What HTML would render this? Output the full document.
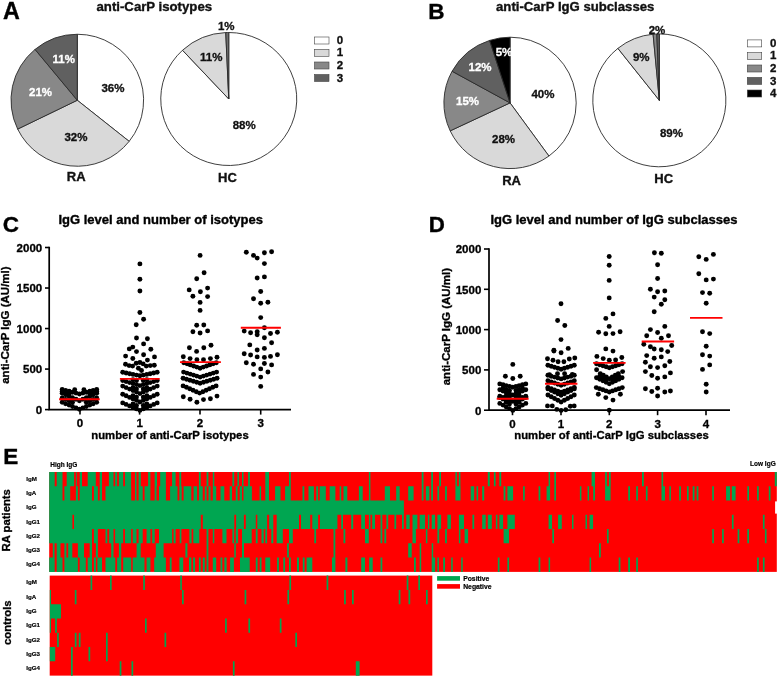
<!DOCTYPE html>
<html><head><meta charset="utf-8"><title>anti-CarP figure</title>
<style>
html,body{margin:0;padding:0;background:#fff;}
svg{display:block;font-family:"Liberation Sans", Arial, sans-serif;}
</style></head><body>
<svg width="778" height="677" viewBox="0 0 778 677">
<rect width="778" height="677" fill="#fff"/>
<path d="M77.30,100.25 L77.30,34.25 A66.3,66.0 0 0 1 129.17,141.35 Z" fill="#ffffff" stroke="#2a2a2a" stroke-width="0.9" stroke-linejoin="round"/>
<path d="M77.30,100.25 L129.17,141.35 A66.3,66.0 0 0 1 17.67,129.10 Z" fill="#d9d9d9" stroke="#2a2a2a" stroke-width="0.9" stroke-linejoin="round"/>
<path d="M77.30,100.25 L17.67,129.10 A66.3,66.0 0 0 1 35.04,49.40 Z" fill="#888888" stroke="#2a2a2a" stroke-width="0.9" stroke-linejoin="round"/>
<path d="M77.30,100.25 L35.04,49.40 A66.3,66.0 0 0 1 77.30,34.25 Z" fill="#606060" stroke="#2a2a2a" stroke-width="0.9" stroke-linejoin="round"/>
<path d="M228.75,99.00 L228.75,32.50 A68.0,66.5 0 1 1 182.51,50.24 Z" fill="#ffffff" stroke="#2a2a2a" stroke-width="0.9" stroke-linejoin="round"/>
<path d="M228.75,99.00 L182.51,50.24 A68.0,66.5 0 0 1 225.76,32.56 Z" fill="#d9d9d9" stroke="#2a2a2a" stroke-width="0.9" stroke-linejoin="round"/>
<path d="M228.75,99.00 L225.76,32.56 A68.0,66.5 0 0 1 228.75,32.50 Z" fill="#707070" stroke="#2a2a2a" stroke-width="0.9" stroke-linejoin="round"/>
<path d="M510.05,102.90 L510.05,37.20 A66.15,65.7 0 0 1 548.93,156.05 Z" fill="#ffffff" stroke="#2a2a2a" stroke-width="0.9" stroke-linejoin="round"/>
<path d="M510.05,102.90 L548.93,156.05 A66.15,65.7 0 0 1 450.20,130.87 Z" fill="#d9d9d9" stroke="#2a2a2a" stroke-width="0.9" stroke-linejoin="round"/>
<path d="M510.05,102.90 L450.20,130.87 A66.15,65.7 0 0 1 452.08,71.25 Z" fill="#888888" stroke="#2a2a2a" stroke-width="0.9" stroke-linejoin="round"/>
<path d="M510.05,102.90 L452.08,71.25 A66.15,65.7 0 0 1 489.61,40.42 Z" fill="#606060" stroke="#2a2a2a" stroke-width="0.9" stroke-linejoin="round"/>
<path d="M510.05,102.90 L489.61,40.42 A66.15,65.7 0 0 1 510.05,37.20 Z" fill="#000000" stroke="#2a2a2a" stroke-width="0.9" stroke-linejoin="round"/>
<path d="M659.35,100.35 L659.35,33.90 A66.55,66.45 0 1 1 617.90,48.36 Z" fill="#ffffff" stroke="#2a2a2a" stroke-width="0.9" stroke-linejoin="round"/>
<path d="M659.35,100.35 L617.90,48.36 A66.55,66.45 0 0 1 653.09,34.19 Z" fill="#d9d9d9" stroke="#2a2a2a" stroke-width="0.9" stroke-linejoin="round"/>
<path d="M659.35,100.35 L653.09,34.19 A66.55,66.45 0 0 1 656.84,33.95 Z" fill="#888888" stroke="#2a2a2a" stroke-width="0.9" stroke-linejoin="round"/>
<path d="M659.35,100.35 L656.84,33.95 A66.55,66.45 0 0 1 659.35,33.90 Z" fill="#606060" stroke="#2a2a2a" stroke-width="0.9" stroke-linejoin="round"/>
<text x="2.9" y="19.3" font-size="23.3" text-anchor="start" fill="#000" stroke="#000" stroke-width="0.35" font-weight="bold" >A</text>
<text x="428.3" y="19.4" font-size="22.5" text-anchor="start" fill="#000" stroke="#000" stroke-width="0.35" font-weight="bold" >B</text>
<text x="154.3" y="11" font-size="13.2" text-anchor="middle" fill="#111" stroke="#111" stroke-width="0.37" font-weight="bold" >anti-CarP isotypes</text>
<text x="575.2" y="10.6" font-size="13.15" text-anchor="middle" fill="#111" stroke="#111" stroke-width="0.37" font-weight="bold" >anti-CarP IgG subclasses</text>
<text x="112.9" y="92.2" font-size="11.5" text-anchor="middle" fill="#111" stroke="#111" stroke-width="0.32" font-weight="bold" >36%</text>
<text x="75.9" y="140.9" font-size="11.5" text-anchor="middle" fill="#111" stroke="#111" stroke-width="0.32" font-weight="bold" >32%</text>
<text x="40.5" y="96.4" font-size="11.5" text-anchor="middle" fill="#fff" stroke="#fff" stroke-width="0.32" font-weight="bold" >21%</text>
<text x="63.8" y="62.7" font-size="11.5" text-anchor="middle" fill="#fff" stroke="#fff" stroke-width="0.32" font-weight="bold" >11%</text>
<text x="76.2" y="180.8" font-size="13" text-anchor="middle" fill="#111" stroke="#111" stroke-width="0.36" font-weight="bold" >RA</text>
<text x="226.2" y="30.1" font-size="11.5" text-anchor="middle" fill="#111" stroke="#111" stroke-width="0.32" font-weight="bold" >1%</text>
<text x="211.2" y="61.2" font-size="11.5" text-anchor="middle" fill="#111" stroke="#111" stroke-width="0.32" font-weight="bold" >11%</text>
<text x="244.2" y="129.1" font-size="11.5" text-anchor="middle" fill="#111" stroke="#111" stroke-width="0.32" font-weight="bold" >88%</text>
<text x="227.4" y="182.3" font-size="13" text-anchor="middle" fill="#111" stroke="#111" stroke-width="0.36" font-weight="bold" >HC</text>
<text x="336.7" y="44.3" font-size="11.5" text-anchor="start" fill="#111" stroke="#111" stroke-width="0.32" font-weight="bold" >0</text>
<text x="336.7" y="56.4" font-size="11.5" text-anchor="start" fill="#111" stroke="#111" stroke-width="0.32" font-weight="bold" >1</text>
<text x="336.7" y="68.8" font-size="11.5" text-anchor="start" fill="#111" stroke="#111" stroke-width="0.32" font-weight="bold" >2</text>
<text x="336.7" y="81.5" font-size="11.5" text-anchor="start" fill="#111" stroke="#111" stroke-width="0.32" font-weight="bold" >3</text>
<text x="542.9" y="97.8" font-size="11.5" text-anchor="middle" fill="#111" stroke="#111" stroke-width="0.32" font-weight="bold" >40%</text>
<text x="503.6" y="143" font-size="11.5" text-anchor="middle" fill="#111" stroke="#111" stroke-width="0.32" font-weight="bold" >28%</text>
<text x="467.6" y="105.4" font-size="11.5" text-anchor="middle" fill="#fff" stroke="#fff" stroke-width="0.32" font-weight="bold" >15%</text>
<text x="480" y="70.9" font-size="11.5" text-anchor="middle" fill="#fff" stroke="#fff" stroke-width="0.32" font-weight="bold" >12%</text>
<text x="504" y="56.0" font-size="11.5" text-anchor="middle" fill="#fff" stroke="#fff" stroke-width="0.32" font-weight="bold" >5%</text>
<text x="511.6" y="184.6" font-size="13" text-anchor="middle" fill="#111" stroke="#111" stroke-width="0.36" font-weight="bold" >RA</text>
<text x="657" y="33.9" font-size="11.5" text-anchor="middle" fill="#111" stroke="#111" stroke-width="0.32" font-weight="bold" >2%</text>
<text x="641.2" y="60.6" font-size="11.5" text-anchor="middle" fill="#111" stroke="#111" stroke-width="0.32" font-weight="bold" >9%</text>
<text x="671.4" y="136.9" font-size="11.5" text-anchor="middle" fill="#111" stroke="#111" stroke-width="0.32" font-weight="bold" >89%</text>
<text x="663.7" y="183.2" font-size="13" text-anchor="middle" fill="#111" stroke="#111" stroke-width="0.36" font-weight="bold" >HC</text>
<text x="770" y="47.3" font-size="11.5" text-anchor="start" fill="#111" stroke="#111" stroke-width="0.32" font-weight="bold" >0</text>
<text x="770" y="59.4" font-size="11.5" text-anchor="start" fill="#111" stroke="#111" stroke-width="0.32" font-weight="bold" >1</text>
<text x="770" y="72.1" font-size="11.5" text-anchor="start" fill="#111" stroke="#111" stroke-width="0.32" font-weight="bold" >2</text>
<text x="770" y="84.5" font-size="11.5" text-anchor="start" fill="#111" stroke="#111" stroke-width="0.32" font-weight="bold" >3</text>
<text x="770" y="97.2" font-size="11.5" text-anchor="start" fill="#111" stroke="#111" stroke-width="0.32" font-weight="bold" >4</text>
<rect x="314.5" y="37" width="14.5" height="7" fill="#fff" stroke="#444" stroke-width="0.6"/>
<rect x="314.5" y="49.3" width="14.5" height="7" fill="#d9d9d9" stroke="#444" stroke-width="0.6"/>
<rect x="314.5" y="62" width="14.5" height="7" fill="#888888" stroke="#444" stroke-width="0.6"/>
<rect x="314.5" y="74.5" width="14.5" height="7" fill="#606060" stroke="#444" stroke-width="0.6"/>
<rect x="747.3" y="39.9" width="14.4" height="7" fill="#fff" stroke="#444" stroke-width="0.6"/>
<rect x="747.3" y="52.6" width="14.4" height="7" fill="#d9d9d9" stroke="#444" stroke-width="0.6"/>
<rect x="747.3" y="65" width="14.4" height="7" fill="#888888" stroke="#444" stroke-width="0.6"/>
<rect x="747.3" y="77.4" width="14.4" height="7" fill="#606060" stroke="#444" stroke-width="0.6"/>
<rect x="747.3" y="90" width="14.4" height="7" fill="#000" stroke="#444" stroke-width="0.6"/>
<path d="M49.2,246.7 V409.6 H291" fill="none" stroke="#000" stroke-width="1.7"/>
<path d="M45.0,409.60 H49.2" stroke="#000" stroke-width="1.6"/>
<text x="42.2" y="414.0" font-size="11.5" text-anchor="end" fill="#000" stroke="#000" stroke-width="0.32" font-weight="bold" >0</text>
<path d="M45.0,369.08 H49.2" stroke="#000" stroke-width="1.6"/>
<text x="42.2" y="373.48" font-size="11.5" text-anchor="end" fill="#000" stroke="#000" stroke-width="0.32" font-weight="bold" >500</text>
<path d="M45.0,328.55 H49.2" stroke="#000" stroke-width="1.6"/>
<text x="42.2" y="332.95" font-size="11.5" text-anchor="end" fill="#000" stroke="#000" stroke-width="0.32" font-weight="bold" >1000</text>
<path d="M45.0,288.02 H49.2" stroke="#000" stroke-width="1.6"/>
<text x="42.2" y="292.42" font-size="11.5" text-anchor="end" fill="#000" stroke="#000" stroke-width="0.32" font-weight="bold" >1500</text>
<path d="M45.0,247.50 H49.2" stroke="#000" stroke-width="1.6"/>
<text x="42.2" y="251.9" font-size="11.5" text-anchor="end" fill="#000" stroke="#000" stroke-width="0.32" font-weight="bold" >2000</text>
<path d="M80,409.6 v5" stroke="#000" stroke-width="1.6"/>
<text x="80" y="427.1" font-size="11.5" text-anchor="middle" fill="#000" stroke="#000" stroke-width="0.32" font-weight="bold" >0</text>
<path d="M139.6,409.6 v5" stroke="#000" stroke-width="1.6"/>
<text x="139.6" y="427.1" font-size="11.5" text-anchor="middle" fill="#000" stroke="#000" stroke-width="0.32" font-weight="bold" >1</text>
<path d="M200,409.6 v5" stroke="#000" stroke-width="1.6"/>
<text x="200" y="427.1" font-size="11.5" text-anchor="middle" fill="#000" stroke="#000" stroke-width="0.32" font-weight="bold" >2</text>
<path d="M260.7,409.6 v5" stroke="#000" stroke-width="1.6"/>
<text x="260.7" y="427.1" font-size="11.5" text-anchor="middle" fill="#000" stroke="#000" stroke-width="0.32" font-weight="bold" >3</text>
<circle cx="62.2" cy="402.3" r="2.45"/>
<circle cx="65.6" cy="403.7" r="2.45"/>
<circle cx="69.1" cy="405.1" r="2.45"/>
<circle cx="72.5" cy="406.5" r="2.45"/>
<circle cx="76.0" cy="407.9" r="2.45"/>
<circle cx="79.4" cy="409.3" r="2.45"/>
<circle cx="82.9" cy="407.9" r="2.45"/>
<circle cx="86.3" cy="406.5" r="2.45"/>
<circle cx="89.8" cy="405.1" r="2.45"/>
<circle cx="93.2" cy="403.7" r="2.45"/>
<circle cx="96.7" cy="402.3" r="2.45"/>
<circle cx="62.2" cy="397.9" r="2.45"/>
<circle cx="65.6" cy="399.4" r="2.45"/>
<circle cx="69.1" cy="400.8" r="2.45"/>
<circle cx="72.5" cy="402.3" r="2.45"/>
<circle cx="86.3" cy="402.3" r="2.45"/>
<circle cx="89.8" cy="400.8" r="2.45"/>
<circle cx="93.2" cy="399.4" r="2.45"/>
<circle cx="96.7" cy="397.9" r="2.45"/>
<circle cx="62.2" cy="393.3" r="2.45"/>
<circle cx="65.6" cy="394.8" r="2.45"/>
<circle cx="69.1" cy="396.3" r="2.45"/>
<circle cx="72.5" cy="397.8" r="2.45"/>
<circle cx="76.0" cy="399.3" r="2.45"/>
<circle cx="79.4" cy="400.8" r="2.45"/>
<circle cx="82.9" cy="399.3" r="2.45"/>
<circle cx="86.3" cy="397.8" r="2.45"/>
<circle cx="89.8" cy="396.3" r="2.45"/>
<circle cx="93.2" cy="394.8" r="2.45"/>
<circle cx="96.7" cy="393.3" r="2.45"/>
<circle cx="62.2" cy="391.4" r="2.45"/>
<circle cx="65.6" cy="392.6" r="2.45"/>
<circle cx="69.1" cy="393.8" r="2.45"/>
<circle cx="89.8" cy="393.8" r="2.45"/>
<circle cx="93.2" cy="392.6" r="2.45"/>
<circle cx="96.7" cy="391.4" r="2.45"/>
<circle cx="62.2" cy="389.5" r="2.45"/>
<circle cx="65.6" cy="390.4" r="2.45"/>
<circle cx="69.1" cy="391.3" r="2.45"/>
<circle cx="72.5" cy="392.2" r="2.45"/>
<circle cx="76.0" cy="393.1" r="2.45"/>
<circle cx="79.4" cy="394.0" r="2.45"/>
<circle cx="82.9" cy="393.1" r="2.45"/>
<circle cx="86.3" cy="392.2" r="2.45"/>
<circle cx="89.8" cy="391.3" r="2.45"/>
<circle cx="93.2" cy="390.4" r="2.45"/>
<circle cx="96.7" cy="389.5" r="2.45"/>
<circle cx="74.7" cy="389.8" r="2.45"/>
<circle cx="83.9" cy="389.8" r="2.45"/>
<circle cx="139.9" cy="263.9" r="2.45"/>
<circle cx="139.9" cy="279.3" r="2.45"/>
<circle cx="139.9" cy="291.0" r="2.45"/>
<circle cx="139.9" cy="312.5" r="2.45"/>
<circle cx="143.6" cy="319.2" r="2.45"/>
<circle cx="136.2" cy="324.8" r="2.45"/>
<circle cx="136.5" cy="338.0" r="2.45"/>
<circle cx="147.4" cy="338.8" r="2.45"/>
<circle cx="143.6" cy="343.9" r="2.45"/>
<circle cx="132.8" cy="347.1" r="2.45"/>
<circle cx="129.3" cy="348.9" r="2.45"/>
<circle cx="150.8" cy="349.2" r="2.45"/>
<circle cx="136.5" cy="351.6" r="2.45"/>
<circle cx="143.6" cy="354.8" r="2.45"/>
<circle cx="125.6" cy="356.1" r="2.45"/>
<circle cx="154.5" cy="356.9" r="2.45"/>
<circle cx="132.8" cy="358.5" r="2.45"/>
<circle cx="147.4" cy="360.1" r="2.45"/>
<circle cx="125.5" cy="364.3" r="2.45"/>
<circle cx="129.1" cy="365.6" r="2.45"/>
<circle cx="132.6" cy="366.1" r="2.45"/>
<circle cx="136.2" cy="363.2" r="2.45"/>
<circle cx="138.4" cy="368.3" r="2.45"/>
<circle cx="141.5" cy="370.5" r="2.45"/>
<circle cx="143.2" cy="363.9" r="2.45"/>
<circle cx="146.3" cy="366.1" r="2.45"/>
<circle cx="150.3" cy="365.6" r="2.45"/>
<circle cx="154.3" cy="365.2" r="2.45"/>
<circle cx="139.9" cy="362.5" r="2.45"/>
<circle cx="122.7" cy="372.3" r="2.45"/>
<circle cx="126.1" cy="373.0" r="2.45"/>
<circle cx="129.6" cy="373.7" r="2.45"/>
<circle cx="133.0" cy="374.4" r="2.45"/>
<circle cx="136.5" cy="375.1" r="2.45"/>
<circle cx="139.9" cy="375.8" r="2.45"/>
<circle cx="143.3" cy="375.1" r="2.45"/>
<circle cx="146.8" cy="374.4" r="2.45"/>
<circle cx="150.2" cy="373.7" r="2.45"/>
<circle cx="153.7" cy="373.0" r="2.45"/>
<circle cx="157.2" cy="372.3" r="2.45"/>
<circle cx="122.7" cy="380.6" r="2.45"/>
<circle cx="126.1" cy="381.6" r="2.45"/>
<circle cx="129.6" cy="382.6" r="2.45"/>
<circle cx="133.0" cy="383.6" r="2.45"/>
<circle cx="136.5" cy="384.6" r="2.45"/>
<circle cx="139.9" cy="385.6" r="2.45"/>
<circle cx="143.3" cy="384.6" r="2.45"/>
<circle cx="146.8" cy="383.6" r="2.45"/>
<circle cx="150.2" cy="382.6" r="2.45"/>
<circle cx="153.7" cy="381.6" r="2.45"/>
<circle cx="157.2" cy="380.6" r="2.45"/>
<circle cx="133.0" cy="379.7" r="2.45"/>
<circle cx="136.5" cy="380.6" r="2.45"/>
<circle cx="143.3" cy="380.6" r="2.45"/>
<circle cx="146.8" cy="379.7" r="2.45"/>
<circle cx="122.7" cy="386.1" r="2.45"/>
<circle cx="126.1" cy="387.6" r="2.45"/>
<circle cx="129.6" cy="389.1" r="2.45"/>
<circle cx="133.0" cy="390.6" r="2.45"/>
<circle cx="136.5" cy="392.1" r="2.45"/>
<circle cx="139.9" cy="393.6" r="2.45"/>
<circle cx="143.3" cy="392.1" r="2.45"/>
<circle cx="146.8" cy="390.6" r="2.45"/>
<circle cx="150.2" cy="389.1" r="2.45"/>
<circle cx="153.7" cy="387.6" r="2.45"/>
<circle cx="157.2" cy="386.1" r="2.45"/>
<circle cx="133.0" cy="387.6" r="2.45"/>
<circle cx="136.5" cy="388.9" r="2.45"/>
<circle cx="143.3" cy="388.9" r="2.45"/>
<circle cx="146.8" cy="387.6" r="2.45"/>
<circle cx="122.7" cy="394.2" r="2.45"/>
<circle cx="126.1" cy="395.8" r="2.45"/>
<circle cx="129.6" cy="397.4" r="2.45"/>
<circle cx="133.0" cy="398.9" r="2.45"/>
<circle cx="136.5" cy="400.4" r="2.45"/>
<circle cx="139.9" cy="402.0" r="2.45"/>
<circle cx="143.3" cy="400.4" r="2.45"/>
<circle cx="146.8" cy="398.9" r="2.45"/>
<circle cx="150.2" cy="397.4" r="2.45"/>
<circle cx="153.7" cy="395.8" r="2.45"/>
<circle cx="157.2" cy="394.2" r="2.45"/>
<circle cx="133.0" cy="395.6" r="2.45"/>
<circle cx="136.5" cy="397.1" r="2.45"/>
<circle cx="143.3" cy="397.1" r="2.45"/>
<circle cx="146.8" cy="395.6" r="2.45"/>
<circle cx="122.7" cy="402.9" r="2.45"/>
<circle cx="126.1" cy="404.4" r="2.45"/>
<circle cx="129.6" cy="405.9" r="2.45"/>
<circle cx="133.0" cy="407.4" r="2.45"/>
<circle cx="136.5" cy="408.9" r="2.45"/>
<circle cx="139.9" cy="410.4" r="2.45"/>
<circle cx="143.3" cy="408.9" r="2.45"/>
<circle cx="146.8" cy="407.4" r="2.45"/>
<circle cx="150.2" cy="405.9" r="2.45"/>
<circle cx="153.7" cy="404.4" r="2.45"/>
<circle cx="157.2" cy="402.9" r="2.45"/>
<circle cx="133.0" cy="404.0" r="2.45"/>
<circle cx="136.5" cy="405.5" r="2.45"/>
<circle cx="143.3" cy="405.5" r="2.45"/>
<circle cx="146.8" cy="404.0" r="2.45"/>
<circle cx="200.1" cy="255.4" r="2.45"/>
<circle cx="204.1" cy="272.7" r="2.45"/>
<circle cx="196.7" cy="278.8" r="2.45"/>
<circle cx="207.6" cy="288.1" r="2.45"/>
<circle cx="189.2" cy="289.9" r="2.45"/>
<circle cx="200.4" cy="291.8" r="2.45"/>
<circle cx="192.9" cy="296.3" r="2.45"/>
<circle cx="207.6" cy="296.6" r="2.45"/>
<circle cx="200.1" cy="302.4" r="2.45"/>
<circle cx="200.1" cy="310.4" r="2.45"/>
<circle cx="196.7" cy="325.3" r="2.45"/>
<circle cx="203.8" cy="325.0" r="2.45"/>
<circle cx="192.9" cy="331.7" r="2.45"/>
<circle cx="200.1" cy="333.0" r="2.45"/>
<circle cx="207.6" cy="330.9" r="2.45"/>
<circle cx="189.4" cy="347.7" r="2.45"/>
<circle cx="196.6" cy="351.4" r="2.45"/>
<circle cx="203.8" cy="347.7" r="2.45"/>
<circle cx="211.0" cy="345.3" r="2.45"/>
<circle cx="183.3" cy="356.8" r="2.45"/>
<circle cx="190.1" cy="358.6" r="2.45"/>
<circle cx="196.9" cy="359.7" r="2.45"/>
<circle cx="203.5" cy="359.7" r="2.45"/>
<circle cx="210.4" cy="358.6" r="2.45"/>
<circle cx="217.0" cy="357.2" r="2.45"/>
<circle cx="183.3" cy="396.8" r="2.45"/>
<circle cx="190.1" cy="399.2" r="2.45"/>
<circle cx="196.9" cy="402.2" r="2.45"/>
<circle cx="203.5" cy="399.6" r="2.45"/>
<circle cx="210.4" cy="398.7" r="2.45"/>
<circle cx="217.0" cy="396.1" r="2.45"/>
<circle cx="183.8" cy="362.7" r="2.45"/>
<circle cx="187.1" cy="363.8" r="2.45"/>
<circle cx="190.3" cy="364.9" r="2.45"/>
<circle cx="193.6" cy="366.0" r="2.45"/>
<circle cx="196.8" cy="367.1" r="2.45"/>
<circle cx="200.1" cy="368.2" r="2.45"/>
<circle cx="203.3" cy="367.1" r="2.45"/>
<circle cx="206.6" cy="366.0" r="2.45"/>
<circle cx="209.8" cy="364.9" r="2.45"/>
<circle cx="213.1" cy="363.8" r="2.45"/>
<circle cx="216.3" cy="362.7" r="2.45"/>
<circle cx="183.6" cy="372.1" r="2.45"/>
<circle cx="186.9" cy="373.1" r="2.45"/>
<circle cx="190.2" cy="374.1" r="2.45"/>
<circle cx="193.5" cy="375.1" r="2.45"/>
<circle cx="196.8" cy="376.1" r="2.45"/>
<circle cx="200.1" cy="377.1" r="2.45"/>
<circle cx="203.4" cy="376.1" r="2.45"/>
<circle cx="206.7" cy="375.1" r="2.45"/>
<circle cx="210.0" cy="374.1" r="2.45"/>
<circle cx="213.3" cy="373.1" r="2.45"/>
<circle cx="216.6" cy="372.1" r="2.45"/>
<circle cx="183.1" cy="378.2" r="2.45"/>
<circle cx="186.5" cy="379.2" r="2.45"/>
<circle cx="189.9" cy="380.2" r="2.45"/>
<circle cx="193.3" cy="381.2" r="2.45"/>
<circle cx="196.7" cy="382.2" r="2.45"/>
<circle cx="200.1" cy="383.2" r="2.45"/>
<circle cx="203.5" cy="382.2" r="2.45"/>
<circle cx="206.9" cy="381.2" r="2.45"/>
<circle cx="210.3" cy="380.2" r="2.45"/>
<circle cx="213.7" cy="379.2" r="2.45"/>
<circle cx="217.1" cy="378.2" r="2.45"/>
<circle cx="183.1" cy="385.9" r="2.45"/>
<circle cx="186.4" cy="387.3" r="2.45"/>
<circle cx="189.7" cy="388.8" r="2.45"/>
<circle cx="193.0" cy="390.2" r="2.45"/>
<circle cx="196.3" cy="391.7" r="2.45"/>
<circle cx="199.6" cy="393.1" r="2.45"/>
<circle cx="202.9" cy="391.7" r="2.45"/>
<circle cx="206.2" cy="390.2" r="2.45"/>
<circle cx="209.5" cy="388.8" r="2.45"/>
<circle cx="212.8" cy="387.3" r="2.45"/>
<circle cx="216.1" cy="385.9" r="2.45"/>
<circle cx="246.3" cy="252.2" r="2.45"/>
<circle cx="253.5" cy="255.4" r="2.45"/>
<circle cx="257.2" cy="258.1" r="2.45"/>
<circle cx="264.4" cy="252.8" r="2.45"/>
<circle cx="271.6" cy="251.7" r="2.45"/>
<circle cx="264.4" cy="263.6" r="2.45"/>
<circle cx="257.2" cy="278.0" r="2.45"/>
<circle cx="264.4" cy="276.9" r="2.45"/>
<circle cx="260.7" cy="291.5" r="2.45"/>
<circle cx="253.5" cy="298.7" r="2.45"/>
<circle cx="260.7" cy="303.2" r="2.45"/>
<circle cx="267.9" cy="302.2" r="2.45"/>
<circle cx="260.7" cy="317.6" r="2.45"/>
<circle cx="264.4" cy="327.7" r="2.45"/>
<circle cx="244.2" cy="331.1" r="2.45"/>
<circle cx="250.6" cy="332.7" r="2.45"/>
<circle cx="257.2" cy="331.7" r="2.45"/>
<circle cx="257.2" cy="334.8" r="2.45"/>
<circle cx="264.4" cy="337.8" r="2.45"/>
<circle cx="270.5" cy="333.5" r="2.45"/>
<circle cx="277.4" cy="332.2" r="2.45"/>
<circle cx="271.6" cy="342.8" r="2.45"/>
<circle cx="249.8" cy="344.9" r="2.45"/>
<circle cx="264.4" cy="348.4" r="2.45"/>
<circle cx="257.2" cy="350.0" r="2.45"/>
<circle cx="244.2" cy="353.7" r="2.45"/>
<circle cx="250.6" cy="355.0" r="2.45"/>
<circle cx="257.2" cy="356.9" r="2.45"/>
<circle cx="264.4" cy="357.4" r="2.45"/>
<circle cx="270.5" cy="356.4" r="2.45"/>
<circle cx="277.4" cy="354.8" r="2.45"/>
<circle cx="246.3" cy="362.7" r="2.45"/>
<circle cx="253.5" cy="364.3" r="2.45"/>
<circle cx="264.4" cy="363.5" r="2.45"/>
<circle cx="271.6" cy="364.9" r="2.45"/>
<circle cx="260.7" cy="368.9" r="2.45"/>
<circle cx="267.9" cy="372.0" r="2.45"/>
<circle cx="253.5" cy="374.4" r="2.45"/>
<circle cx="260.7" cy="377.1" r="2.45"/>
<circle cx="260.7" cy="386.4" r="2.45"/>
<path d="M59.1,399.2 H99.7" stroke="#ff0000" stroke-width="1.9"/>
<path d="M119.9,378.9 H159.7" stroke="#ff0000" stroke-width="1.9"/>
<path d="M180,362.1 H220.9" stroke="#ff0000" stroke-width="1.9"/>
<path d="M240.8,327.7 H280.9" stroke="#ff0000" stroke-width="1.9"/>
<path d="M489.0,248.2 V410.2 H730" fill="none" stroke="#000" stroke-width="1.7"/>
<path d="M484.0,410.20 H489.0" stroke="#000" stroke-width="1.6"/>
<text x="481.3" y="414.6" font-size="11.5" text-anchor="end" fill="#000" stroke="#000" stroke-width="0.32" font-weight="bold" >0</text>
<path d="M484.0,369.90 H489.0" stroke="#000" stroke-width="1.6"/>
<text x="481.3" y="374.3" font-size="11.5" text-anchor="end" fill="#000" stroke="#000" stroke-width="0.32" font-weight="bold" >500</text>
<path d="M484.0,329.60 H489.0" stroke="#000" stroke-width="1.6"/>
<text x="481.3" y="334.0" font-size="11.5" text-anchor="end" fill="#000" stroke="#000" stroke-width="0.32" font-weight="bold" >1000</text>
<path d="M484.0,289.30 H489.0" stroke="#000" stroke-width="1.6"/>
<text x="481.3" y="293.7" font-size="11.5" text-anchor="end" fill="#000" stroke="#000" stroke-width="0.32" font-weight="bold" >1500</text>
<path d="M484.0,249.00 H489.0" stroke="#000" stroke-width="1.6"/>
<text x="481.3" y="253.4" font-size="11.5" text-anchor="end" fill="#000" stroke="#000" stroke-width="0.32" font-weight="bold" >2000</text>
<path d="M512.5,410.2 v5" stroke="#000" stroke-width="1.6"/>
<text x="512.5" y="427.7" font-size="11.5" text-anchor="middle" fill="#000" stroke="#000" stroke-width="0.32" font-weight="bold" >0</text>
<path d="M561,410.2 v5" stroke="#000" stroke-width="1.6"/>
<text x="561" y="427.7" font-size="11.5" text-anchor="middle" fill="#000" stroke="#000" stroke-width="0.32" font-weight="bold" >1</text>
<path d="M609.3,410.2 v5" stroke="#000" stroke-width="1.6"/>
<text x="609.3" y="427.7" font-size="11.5" text-anchor="middle" fill="#000" stroke="#000" stroke-width="0.32" font-weight="bold" >2</text>
<path d="M657.6,410.2 v5" stroke="#000" stroke-width="1.6"/>
<text x="657.6" y="427.7" font-size="11.5" text-anchor="middle" fill="#000" stroke="#000" stroke-width="0.32" font-weight="bold" >3</text>
<path d="M706,410.2 v5" stroke="#000" stroke-width="1.6"/>
<text x="706" y="427.7" font-size="11.5" text-anchor="middle" fill="#000" stroke="#000" stroke-width="0.32" font-weight="bold" >4</text>
<circle cx="512.8" cy="364.4" r="2.45"/>
<circle cx="505.4" cy="376.3" r="2.45"/>
<circle cx="512.8" cy="378.5" r="2.45"/>
<circle cx="520.2" cy="376.3" r="2.45"/>
<circle cx="499.8" cy="383.9" r="2.45"/>
<circle cx="503.0" cy="384.8" r="2.45"/>
<circle cx="506.2" cy="385.6" r="2.45"/>
<circle cx="509.5" cy="386.4" r="2.45"/>
<circle cx="512.8" cy="387.3" r="2.45"/>
<circle cx="516.0" cy="386.4" r="2.45"/>
<circle cx="519.2" cy="385.6" r="2.45"/>
<circle cx="522.5" cy="384.8" r="2.45"/>
<circle cx="525.8" cy="383.9" r="2.45"/>
<circle cx="499.8" cy="389.8" r="2.45"/>
<circle cx="503.0" cy="391.1" r="2.45"/>
<circle cx="506.2" cy="392.4" r="2.45"/>
<circle cx="509.5" cy="393.7" r="2.45"/>
<circle cx="512.8" cy="395.0" r="2.45"/>
<circle cx="516.0" cy="393.7" r="2.45"/>
<circle cx="519.2" cy="392.4" r="2.45"/>
<circle cx="522.5" cy="391.1" r="2.45"/>
<circle cx="525.8" cy="389.8" r="2.45"/>
<circle cx="499.8" cy="396.2" r="2.45"/>
<circle cx="503.0" cy="397.5" r="2.45"/>
<circle cx="506.2" cy="398.8" r="2.45"/>
<circle cx="509.5" cy="400.1" r="2.45"/>
<circle cx="512.8" cy="401.4" r="2.45"/>
<circle cx="516.0" cy="400.1" r="2.45"/>
<circle cx="519.2" cy="398.8" r="2.45"/>
<circle cx="522.5" cy="397.5" r="2.45"/>
<circle cx="525.8" cy="396.2" r="2.45"/>
<circle cx="499.8" cy="403.4" r="2.45"/>
<circle cx="503.0" cy="405.1" r="2.45"/>
<circle cx="506.2" cy="406.9" r="2.45"/>
<circle cx="509.5" cy="408.6" r="2.45"/>
<circle cx="512.8" cy="410.4" r="2.45"/>
<circle cx="516.0" cy="408.6" r="2.45"/>
<circle cx="519.2" cy="406.9" r="2.45"/>
<circle cx="522.5" cy="405.1" r="2.45"/>
<circle cx="525.8" cy="403.4" r="2.45"/>
<circle cx="506.2" cy="402.4" r="2.45"/>
<circle cx="509.5" cy="404.0" r="2.45"/>
<circle cx="516.0" cy="404.0" r="2.45"/>
<circle cx="519.2" cy="402.4" r="2.45"/>
<circle cx="503.0" cy="388.3" r="2.45"/>
<circle cx="506.2" cy="389.4" r="2.45"/>
<circle cx="509.5" cy="390.5" r="2.45"/>
<circle cx="516.0" cy="390.5" r="2.45"/>
<circle cx="519.2" cy="389.4" r="2.45"/>
<circle cx="522.5" cy="388.3" r="2.45"/>
<circle cx="499.8" cy="397.6" r="2.45"/>
<circle cx="503.0" cy="399.1" r="2.45"/>
<circle cx="506.2" cy="400.6" r="2.45"/>
<circle cx="519.2" cy="400.6" r="2.45"/>
<circle cx="522.5" cy="399.1" r="2.45"/>
<circle cx="525.8" cy="397.6" r="2.45"/>
<circle cx="506.2" cy="395.8" r="2.45"/>
<circle cx="509.5" cy="397.1" r="2.45"/>
<circle cx="516.0" cy="397.1" r="2.45"/>
<circle cx="519.2" cy="395.8" r="2.45"/>
<circle cx="561.0" cy="303.8" r="2.45"/>
<circle cx="557.6" cy="320.5" r="2.45"/>
<circle cx="564.8" cy="325.5" r="2.45"/>
<circle cx="561.0" cy="339.6" r="2.45"/>
<circle cx="553.9" cy="350.3" r="2.45"/>
<circle cx="568.2" cy="348.4" r="2.45"/>
<circle cx="553.9" cy="351.0" r="2.45"/>
<circle cx="561.1" cy="352.8" r="2.45"/>
<circle cx="547.5" cy="358.7" r="2.45"/>
<circle cx="553.0" cy="360.3" r="2.45"/>
<circle cx="558.1" cy="361.8" r="2.45"/>
<circle cx="563.9" cy="361.8" r="2.45"/>
<circle cx="569.3" cy="359.0" r="2.45"/>
<circle cx="574.8" cy="358.0" r="2.45"/>
<circle cx="557.5" cy="373.8" r="2.45"/>
<circle cx="564.6" cy="373.8" r="2.45"/>
<circle cx="572.3" cy="374.4" r="2.45"/>
<circle cx="549.5" cy="374.6" r="2.45"/>
<circle cx="547.5" cy="405.9" r="2.45"/>
<circle cx="552.3" cy="405.9" r="2.45"/>
<circle cx="556.8" cy="409.4" r="2.45"/>
<circle cx="561.1" cy="410.4" r="2.45"/>
<circle cx="565.8" cy="409.8" r="2.45"/>
<circle cx="570.3" cy="406.3" r="2.45"/>
<circle cx="574.2" cy="405.9" r="2.45"/>
<circle cx="547.9" cy="365.3" r="2.45"/>
<circle cx="551.2" cy="366.3" r="2.45"/>
<circle cx="554.5" cy="367.3" r="2.45"/>
<circle cx="557.8" cy="368.3" r="2.45"/>
<circle cx="561.1" cy="369.3" r="2.45"/>
<circle cx="564.4" cy="368.3" r="2.45"/>
<circle cx="567.7" cy="367.3" r="2.45"/>
<circle cx="571.0" cy="366.3" r="2.45"/>
<circle cx="574.3" cy="365.3" r="2.45"/>
<circle cx="547.9" cy="375.3" r="2.45"/>
<circle cx="551.2" cy="376.2" r="2.45"/>
<circle cx="554.5" cy="377.1" r="2.45"/>
<circle cx="557.8" cy="378.0" r="2.45"/>
<circle cx="561.1" cy="378.9" r="2.45"/>
<circle cx="564.4" cy="378.0" r="2.45"/>
<circle cx="567.7" cy="377.1" r="2.45"/>
<circle cx="571.0" cy="376.2" r="2.45"/>
<circle cx="574.3" cy="375.3" r="2.45"/>
<circle cx="547.9" cy="380.7" r="2.45"/>
<circle cx="551.2" cy="381.9" r="2.45"/>
<circle cx="554.5" cy="383.0" r="2.45"/>
<circle cx="557.8" cy="384.2" r="2.45"/>
<circle cx="561.1" cy="385.3" r="2.45"/>
<circle cx="564.4" cy="384.2" r="2.45"/>
<circle cx="567.7" cy="383.0" r="2.45"/>
<circle cx="571.0" cy="381.9" r="2.45"/>
<circle cx="574.3" cy="380.7" r="2.45"/>
<circle cx="547.9" cy="387.5" r="2.45"/>
<circle cx="551.2" cy="388.7" r="2.45"/>
<circle cx="554.5" cy="389.9" r="2.45"/>
<circle cx="557.8" cy="391.1" r="2.45"/>
<circle cx="561.1" cy="392.3" r="2.45"/>
<circle cx="564.4" cy="391.1" r="2.45"/>
<circle cx="567.7" cy="389.9" r="2.45"/>
<circle cx="571.0" cy="388.7" r="2.45"/>
<circle cx="574.3" cy="387.5" r="2.45"/>
<circle cx="547.9" cy="388.9" r="2.45"/>
<circle cx="551.2" cy="390.5" r="2.45"/>
<circle cx="554.5" cy="392.1" r="2.45"/>
<circle cx="557.8" cy="393.7" r="2.45"/>
<circle cx="561.1" cy="395.3" r="2.45"/>
<circle cx="564.4" cy="393.7" r="2.45"/>
<circle cx="567.7" cy="392.1" r="2.45"/>
<circle cx="571.0" cy="390.5" r="2.45"/>
<circle cx="574.3" cy="388.9" r="2.45"/>
<circle cx="547.9" cy="395.0" r="2.45"/>
<circle cx="551.2" cy="396.8" r="2.45"/>
<circle cx="554.5" cy="398.5" r="2.45"/>
<circle cx="557.8" cy="400.2" r="2.45"/>
<circle cx="561.1" cy="402.0" r="2.45"/>
<circle cx="564.4" cy="400.2" r="2.45"/>
<circle cx="567.7" cy="398.5" r="2.45"/>
<circle cx="571.0" cy="396.8" r="2.45"/>
<circle cx="574.3" cy="395.0" r="2.45"/>
<circle cx="609.2" cy="256.5" r="2.45"/>
<circle cx="609.2" cy="265.2" r="2.45"/>
<circle cx="609.2" cy="280.4" r="2.45"/>
<circle cx="609.2" cy="297.9" r="2.45"/>
<circle cx="613.0" cy="313.9" r="2.45"/>
<circle cx="605.8" cy="318.4" r="2.45"/>
<circle cx="609.2" cy="326.4" r="2.45"/>
<circle cx="598.6" cy="332.2" r="2.45"/>
<circle cx="605.8" cy="333.8" r="2.45"/>
<circle cx="613.0" cy="333.6" r="2.45"/>
<circle cx="620.1" cy="331.7" r="2.45"/>
<circle cx="605.8" cy="348.9" r="2.45"/>
<circle cx="613.0" cy="351.1" r="2.45"/>
<circle cx="596.9" cy="356.4" r="2.45"/>
<circle cx="603.2" cy="358.6" r="2.45"/>
<circle cx="609.3" cy="360.3" r="2.45"/>
<circle cx="615.6" cy="359.9" r="2.45"/>
<circle cx="621.8" cy="357.5" r="2.45"/>
<circle cx="596.6" cy="369.7" r="2.45"/>
<circle cx="622.6" cy="371.6" r="2.45"/>
<circle cx="598.3" cy="394.2" r="2.45"/>
<circle cx="620.4" cy="394.2" r="2.45"/>
<circle cx="605.8" cy="397.6" r="2.45"/>
<circle cx="613.0" cy="400.1" r="2.45"/>
<circle cx="609.3" cy="410.3" r="2.45"/>
<circle cx="596.5" cy="363.7" r="2.45"/>
<circle cx="599.7" cy="364.7" r="2.45"/>
<circle cx="602.9" cy="365.7" r="2.45"/>
<circle cx="606.1" cy="366.7" r="2.45"/>
<circle cx="609.3" cy="367.7" r="2.45"/>
<circle cx="612.5" cy="366.7" r="2.45"/>
<circle cx="615.7" cy="365.7" r="2.45"/>
<circle cx="618.9" cy="364.7" r="2.45"/>
<circle cx="622.1" cy="363.7" r="2.45"/>
<circle cx="600.3" cy="373.6" r="2.45"/>
<circle cx="603.3" cy="375.3" r="2.45"/>
<circle cx="606.3" cy="377.0" r="2.45"/>
<circle cx="609.3" cy="378.7" r="2.45"/>
<circle cx="612.3" cy="377.0" r="2.45"/>
<circle cx="615.3" cy="375.3" r="2.45"/>
<circle cx="618.3" cy="373.6" r="2.45"/>
<circle cx="596.5" cy="377.7" r="2.45"/>
<circle cx="599.7" cy="379.2" r="2.45"/>
<circle cx="602.9" cy="380.7" r="2.45"/>
<circle cx="606.1" cy="382.2" r="2.45"/>
<circle cx="609.3" cy="383.7" r="2.45"/>
<circle cx="612.5" cy="382.2" r="2.45"/>
<circle cx="615.7" cy="380.7" r="2.45"/>
<circle cx="618.9" cy="379.2" r="2.45"/>
<circle cx="622.1" cy="377.7" r="2.45"/>
<circle cx="599.7" cy="376.5" r="2.45"/>
<circle cx="602.9" cy="378.0" r="2.45"/>
<circle cx="606.1" cy="379.5" r="2.45"/>
<circle cx="612.5" cy="379.5" r="2.45"/>
<circle cx="615.7" cy="378.0" r="2.45"/>
<circle cx="618.9" cy="376.5" r="2.45"/>
<circle cx="596.3" cy="387.6" r="2.45"/>
<circle cx="599.5" cy="388.7" r="2.45"/>
<circle cx="602.8" cy="389.8" r="2.45"/>
<circle cx="606.0" cy="390.9" r="2.45"/>
<circle cx="609.3" cy="392.0" r="2.45"/>
<circle cx="612.5" cy="390.9" r="2.45"/>
<circle cx="615.8" cy="389.8" r="2.45"/>
<circle cx="619.0" cy="388.7" r="2.45"/>
<circle cx="622.3" cy="387.6" r="2.45"/>
<circle cx="654.4" cy="252.8" r="2.45"/>
<circle cx="661.3" cy="253.3" r="2.45"/>
<circle cx="657.6" cy="264.7" r="2.45"/>
<circle cx="657.6" cy="278.5" r="2.45"/>
<circle cx="650.4" cy="289.2" r="2.45"/>
<circle cx="657.6" cy="291.8" r="2.45"/>
<circle cx="664.8" cy="291.0" r="2.45"/>
<circle cx="654.2" cy="297.1" r="2.45"/>
<circle cx="664.8" cy="299.8" r="2.45"/>
<circle cx="661.3" cy="304.3" r="2.45"/>
<circle cx="654.2" cy="311.8" r="2.45"/>
<circle cx="664.8" cy="326.4" r="2.45"/>
<circle cx="650.4" cy="329.6" r="2.45"/>
<circle cx="657.6" cy="332.5" r="2.45"/>
<circle cx="646.7" cy="335.7" r="2.45"/>
<circle cx="668.5" cy="335.7" r="2.45"/>
<circle cx="661.3" cy="338.3" r="2.45"/>
<circle cx="643.8" cy="344.2" r="2.45"/>
<circle cx="650.4" cy="346.8" r="2.45"/>
<circle cx="654.2" cy="349.0" r="2.45"/>
<circle cx="661.3" cy="349.8" r="2.45"/>
<circle cx="671.7" cy="345.5" r="2.45"/>
<circle cx="667.7" cy="351.6" r="2.45"/>
<circle cx="646.7" cy="355.6" r="2.45"/>
<circle cx="654.2" cy="358.3" r="2.45"/>
<circle cx="661.3" cy="356.9" r="2.45"/>
<circle cx="669.8" cy="361.5" r="2.45"/>
<circle cx="645.4" cy="362.3" r="2.45"/>
<circle cx="650.4" cy="366.8" r="2.45"/>
<circle cx="657.6" cy="367.6" r="2.45"/>
<circle cx="664.8" cy="365.7" r="2.45"/>
<circle cx="645.4" cy="371.6" r="2.45"/>
<circle cx="670.4" cy="372.9" r="2.45"/>
<circle cx="651.8" cy="375.5" r="2.45"/>
<circle cx="657.6" cy="378.2" r="2.45"/>
<circle cx="664.8" cy="376.9" r="2.45"/>
<circle cx="645.4" cy="388.8" r="2.45"/>
<circle cx="651.8" cy="391.5" r="2.45"/>
<circle cx="657.6" cy="388.3" r="2.45"/>
<circle cx="657.6" cy="396.0" r="2.45"/>
<circle cx="664.8" cy="392.0" r="2.45"/>
<circle cx="670.4" cy="391.0" r="2.45"/>
<circle cx="698.8" cy="256.7" r="2.45"/>
<circle cx="706.2" cy="259.4" r="2.45"/>
<circle cx="713.4" cy="254.4" r="2.45"/>
<circle cx="698.8" cy="273.8" r="2.45"/>
<circle cx="706.2" cy="279.9" r="2.45"/>
<circle cx="713.4" cy="279.1" r="2.45"/>
<circle cx="702.5" cy="292.6" r="2.45"/>
<circle cx="709.7" cy="293.2" r="2.45"/>
<circle cx="706.2" cy="303.3" r="2.45"/>
<circle cx="702.5" cy="331.7" r="2.45"/>
<circle cx="709.7" cy="333.6" r="2.45"/>
<circle cx="706.2" cy="346.3" r="2.45"/>
<circle cx="702.5" cy="354.8" r="2.45"/>
<circle cx="709.7" cy="356.1" r="2.45"/>
<circle cx="709.7" cy="364.9" r="2.45"/>
<circle cx="702.5" cy="369.4" r="2.45"/>
<circle cx="706.2" cy="384.3" r="2.45"/>
<circle cx="706.2" cy="392.0" r="2.45"/>
<path d="M496.7,398.8 H528.6" stroke="#ff0000" stroke-width="1.9"/>
<path d="M545,383.7 H577.4" stroke="#ff0000" stroke-width="1.9"/>
<path d="M593.1,362.9 H625.6" stroke="#ff0000" stroke-width="1.9"/>
<path d="M641.7,341.5 H674.1" stroke="#ff0000" stroke-width="1.9"/>
<path d="M690,317.9 H722.5" stroke="#ff0000" stroke-width="1.9"/>
<text x="2.8" y="232.3" font-size="22.5" text-anchor="start" fill="#000" stroke="#000" stroke-width="0.35" font-weight="bold" >C</text>
<text x="428.7" y="232" font-size="22.3" text-anchor="start" fill="#000" stroke="#000" stroke-width="0.35" font-weight="bold" >D</text>
<text x="160.7" y="224" font-size="13" text-anchor="middle" fill="#000" stroke="#000" stroke-width="0.36" font-weight="bold" >IgG level and number of isotypes</text>
<text x="614" y="224" font-size="13" text-anchor="middle" fill="#000" stroke="#000" stroke-width="0.36" font-weight="bold" >IgG level and number of IgG subclasses</text>
<text x="170" y="438.6" font-size="11.3" text-anchor="middle" fill="#000" stroke="#000" stroke-width="0.32" font-weight="bold" >number of anti-CarP isotypes</text>
<text x="611.5" y="438.6" font-size="11.3" text-anchor="middle" fill="#000" stroke="#000" stroke-width="0.32" font-weight="bold" >number of anti-CarP IgG subclasses</text>
<text x="0" y="0" font-size="11.5" text-anchor="middle" fill="#000" stroke="#000" stroke-width="0.32" font-weight="bold" transform="translate(9.1,325.1) rotate(-90)">anti-CarP IgG (AU/ml)</text>
<text x="0" y="0" font-size="11.5" text-anchor="middle" fill="#000" stroke="#000" stroke-width="0.32" font-weight="bold" transform="translate(449.8,326.6) rotate(-90)">anti-CarP IgG (AU/ml)</text>
<rect x="49.2" y="472.0" width="727.5999999999999" height="99.89" fill="#ff0000"/>
<path d="M49.2,472.00h5.5v14.27h-5.5zM56.7,472.00h5.8v14.27h-5.8zM66.7,472.00h7.4v14.27h-7.4zM75.9,472.00h0.8v14.27h-0.8zM79.7,472.00h2.3v14.27h-2.3zM87.7,472.00h8.1v14.27h-8.1zM99.7,472.00h2.3v14.27h-2.3zM108.9,472.00h4.6v14.27h-4.6zM115.1,472.00h2.0v14.27h-2.0zM118.9,472.00h4.3v14.27h-4.3zM125.0,472.00h6.1v14.27h-6.1zM135.0,472.00h1.5v14.27h-1.5zM138.6,472.00h2.2v14.27h-2.2zM148.1,472.00h2.3v14.27h-2.3zM154.7,472.00h2.3v14.27h-2.3zM160.2,472.00h5.7v14.27h-5.7zM172.1,472.00h3.5v14.27h-3.5zM179.4,472.00h1.8v14.27h-1.8zM198.9,472.00h1.8v14.27h-1.8zM206.6,472.00h1.8v14.27h-1.8zM212.8,472.00h1.5v14.27h-1.5zM232.4,472.00h1.8v14.27h-1.8zM237.4,472.00h1.5v14.27h-1.5zM242.0,472.00h1.5v14.27h-1.5zM248.1,472.00h1.8v14.27h-1.8zM265.3,472.00h3.7v14.27h-3.7zM289.0,472.00h1.8v14.27h-1.8zM368.9,472.00h1.5v14.27h-1.5zM421.7,472.00h1.8v14.27h-1.8zM431.2,472.00h1.8v14.27h-1.8zM439.2,472.00h1.8v14.27h-1.8zM455.4,472.00h1.5v14.27h-1.5zM458.9,472.00h1.5v14.27h-1.5zM487.8,472.00h1.2v14.27h-1.2zM489.0,472.00h0.8v14.27h-0.8zM493.9,472.00h1.7v14.27h-1.7zM499.4,472.00h1.8v14.27h-1.8zM548.6,472.00h1.5v14.27h-1.5zM554.3,472.00h1.7v14.27h-1.7zM591.6,472.00h3.4v14.27h-3.4zM605.1,472.00h1.8v14.27h-1.8zM609.0,472.00h1.7v14.27h-1.7zM642.0,472.00h1.8v14.27h-1.8zM661.5,472.00h1.7v14.27h-1.7zM774.8,472.00h2.0v14.27h-2.0zM49.2,486.27h13.3v14.27h-13.3zM64.4,486.27h5.8v14.27h-5.8zM75.9,486.27h2.0v14.27h-2.0zM79.7,486.27h12.3v14.27h-12.3zM93.9,486.27h4.0v14.27h-4.0zM99.7,486.27h2.3v14.27h-2.3zM105.5,486.27h25.7v14.27h-25.7zM135.0,486.27h1.5v14.27h-1.5zM138.6,486.27h4.1v14.27h-4.1zM144.6,486.27h5.8v14.27h-5.8zM154.7,486.27h1.8v14.27h-1.8zM159.0,486.27h6.9v14.27h-6.9zM170.1,486.27h7.4v14.27h-7.4zM179.4,486.27h2.3v14.27h-2.3zM183.6,486.27h7.7v14.27h-7.7zM193.6,486.27h3.5v14.27h-3.5zM198.9,486.27h3.8v14.27h-3.8zM204.8,486.27h1.8v14.27h-1.8zM208.5,486.27h2.0v14.27h-2.0zM212.8,486.27h3.4v14.27h-3.4zM220.5,486.27h3.8v14.27h-3.8zM229.7,486.27h2.3v14.27h-2.3zM235.8,486.27h1.8v14.27h-1.8zM239.7,486.27h2.3v14.27h-2.3zM243.5,486.27h8.4v14.27h-8.4zM259.6,486.27h1.5v14.27h-1.5zM265.3,486.27h3.7v14.27h-3.7zM275.1,486.27h5.4v14.27h-5.4zM285.1,486.27h5.7v14.27h-5.7zM302.5,486.27h1.8v14.27h-1.8zM308.5,486.27h5.4v14.27h-5.4zM316.3,486.27h1.8v14.27h-1.8zM319.7,486.27h6.1v14.27h-6.1zM329.7,486.27h5.7v14.27h-5.7zM339.7,486.27h1.5v14.27h-1.5zM343.5,486.27h3.8v14.27h-3.8zM358.9,486.27h3.8v14.27h-3.8zM368.9,486.27h1.5v14.27h-1.5zM384.8,486.27h5.2v14.27h-5.2zM396.2,486.27h3.5v14.27h-3.5zM408.2,486.27h5.4v14.27h-5.4zM421.7,486.27h1.8v14.27h-1.8zM425.9,486.27h3.5v14.27h-3.5zM431.2,486.27h1.8v14.27h-1.8zM437.4,486.27h1.8v14.27h-1.8zM445.1,486.27h1.8v14.27h-1.8zM455.4,486.27h5.1v14.27h-5.1zM470.7,486.27h3.5v14.27h-3.5zM476.6,486.27h1.5v14.27h-1.5zM482.2,486.27h2.0v14.27h-2.0zM503.6,486.27h1.8v14.27h-1.8zM507.4,486.27h5.7v14.27h-5.7zM523.1,486.27h1.7v14.27h-1.7zM538.6,486.27h1.7v14.27h-1.7zM546.6,486.27h3.5v14.27h-3.5zM554.3,486.27h1.7v14.27h-1.7zM579.9,486.27h1.5v14.27h-1.5zM587.6,486.27h1.5v14.27h-1.5zM593.2,486.27h1.8v14.27h-1.8zM605.1,486.27h5.5v14.27h-5.5zM628.2,486.27h1.8v14.27h-1.8zM636.2,486.27h1.7v14.27h-1.7zM645.9,486.27h1.7v14.27h-1.7zM661.5,486.27h3.5v14.27h-3.5zM669.4,486.27h1.5v14.27h-1.5zM679.2,486.27h1.7v14.27h-1.7zM687.0,486.27h1.7v14.27h-1.7zM692.7,486.27h1.8v14.27h-1.8zM696.7,486.27h1.7v14.27h-1.7zM712.2,486.27h1.7v14.27h-1.7zM726.1,486.27h4.0v14.27h-4.0zM731.8,486.27h3.8v14.27h-3.8zM747.3,486.27h1.7v14.27h-1.7zM757.1,486.27h1.7v14.27h-1.7zM768.8,486.27h1.7v14.27h-1.7zM49.2,500.54h109.8v14.27h-109.8zM159.0,500.54h110.0v14.27h-110.0zM269.0,500.54h110.0v14.27h-110.0zM379.0,500.54h24.9v14.27h-24.9zM49.2,514.81h23.2v14.27h-23.2zM74.0,514.81h85.0v14.27h-85.0zM159.0,514.81h41.8v14.27h-41.8zM202.8,514.81h31.5v14.27h-31.5zM236.1,514.81h7.8v14.27h-7.8zM245.8,514.81h10.0v14.27h-10.0zM257.3,514.81h9.8v14.27h-9.8zM269.2,514.81h4.1v14.27h-4.1zM276.7,514.81h22.3v14.27h-22.3zM301.0,514.81h9.2v14.27h-9.2zM312.3,514.81h5.8v14.27h-5.8zM320.0,514.81h17.4v14.27h-17.4zM341.2,514.81h1.8v14.27h-1.8zM351.2,514.81h2.0v14.27h-2.0zM361.2,514.81h3.8v14.27h-3.8zM368.9,514.81h1.5v14.27h-1.5zM372.2,514.81h2.8v14.27h-2.8zM380.5,514.81h1.8v14.27h-1.8zM386.4,514.81h1.8v14.27h-1.8zM394.4,514.81h1.8v14.27h-1.8zM402.0,514.81h1.8v14.27h-1.8zM406.3,514.81h3.4v14.27h-3.4zM412.5,514.81h4.9v14.27h-4.9zM419.7,514.81h5.4v14.27h-5.4zM427.9,514.81h1.5v14.27h-1.5zM431.7,514.81h3.4v14.27h-3.4zM437.4,514.81h3.7v14.27h-3.7zM447.4,514.81h3.5v14.27h-3.5zM458.9,514.81h5.1v14.27h-5.1zM472.4,514.81h1.8v14.27h-1.8zM482.2,514.81h3.5v14.27h-3.5zM487.8,514.81h1.2v14.27h-1.2zM489.0,514.81h2.8v14.27h-2.8zM495.9,514.81h1.5v14.27h-1.5zM499.4,514.81h3.7v14.27h-3.7zM507.4,514.81h7.4v14.27h-7.4zM548.6,514.81h3.4v14.27h-3.4zM558.1,514.81h3.7v14.27h-3.7zM572.0,514.81h1.5v14.27h-1.5zM585.5,514.81h1.5v14.27h-1.5zM589.6,514.81h3.5v14.27h-3.5zM731.9,514.81h1.7v14.27h-1.7zM762.9,514.81h1.7v14.27h-1.7zM49.2,529.08h42.8v14.27h-42.8zM93.9,529.08h4.0v14.27h-4.0zM105.5,529.08h1.8v14.27h-1.8zM109.2,529.08h4.3v14.27h-4.3zM115.1,529.08h8.1v14.27h-8.1zM125.0,529.08h6.1v14.27h-6.1zM132.7,529.08h3.8v14.27h-3.8zM138.6,529.08h4.1v14.27h-4.1zM146.6,529.08h3.8v14.27h-3.8zM152.2,529.08h2.5v14.27h-2.5zM159.0,529.08h13.1v14.27h-13.1zM173.6,529.08h2.0v14.27h-2.0zM179.7,529.08h1.7v14.27h-1.7zM189.4,529.08h2.2v14.27h-2.2zM193.3,529.08h6.0v14.27h-6.0zM206.6,529.08h1.8v14.27h-1.8zM212.8,529.08h1.5v14.27h-1.5zM222.4,529.08h4.1v14.27h-4.1zM232.4,529.08h1.8v14.27h-1.8zM235.8,529.08h2.3v14.27h-2.3zM242.0,529.08h9.7v14.27h-9.7zM255.8,529.08h1.8v14.27h-1.8zM261.5,529.08h2.2v14.27h-2.2zM265.3,529.08h1.8v14.27h-1.8zM271.3,529.08h2.0v14.27h-2.0zM276.7,529.08h6.1v14.27h-6.1zM289.0,529.08h3.8v14.27h-3.8zM314.3,529.08h1.8v14.27h-1.8zM333.5,529.08h1.8v14.27h-1.8zM343.5,529.08h1.8v14.27h-1.8zM365.0,529.08h3.8v14.27h-3.8zM380.5,529.08h1.8v14.27h-1.8zM384.4,529.08h1.8v14.27h-1.8zM412.5,529.08h3.4v14.27h-3.4zM425.9,529.08h1.5v14.27h-1.5zM437.4,529.08h1.8v14.27h-1.8zM445.1,529.08h1.8v14.27h-1.8zM458.9,529.08h1.5v14.27h-1.5zM464.6,529.08h3.5v14.27h-3.5zM503.6,529.08h5.4v14.27h-5.4zM552.3,529.08h1.7v14.27h-1.7zM607.0,529.08h1.7v14.27h-1.7zM712.2,529.08h1.7v14.27h-1.7zM722.1,529.08h1.7v14.27h-1.7zM737.6,529.08h1.7v14.27h-1.7zM747.3,529.08h1.7v14.27h-1.7zM764.9,529.08h1.7v14.27h-1.7zM52.8,543.35h1.8v14.27h-1.8zM56.7,543.35h3.8v14.27h-3.8zM64.4,543.35h2.0v14.27h-2.0zM68.2,543.35h4.1v14.27h-4.1zM77.9,543.35h6.1v14.27h-6.1zM89.7,543.35h2.3v14.27h-2.3zM95.9,543.35h2.0v14.27h-2.0zM111.2,543.35h2.3v14.27h-2.3zM118.9,543.35h2.3v14.27h-2.3zM136.6,543.35h4.1v14.27h-4.1zM155.8,543.35h3.2v14.27h-3.2zM159.0,543.35h4.6v14.27h-4.6zM185.4,543.35h2.0v14.27h-2.0zM206.6,543.35h1.8v14.27h-1.8zM234.3,543.35h1.5v14.27h-1.5zM242.0,543.35h2.0v14.27h-2.0zM287.1,543.35h1.8v14.27h-1.8zM333.5,543.35h1.8v14.27h-1.8zM408.2,543.35h3.5v14.27h-3.5zM419.7,543.35h1.5v14.27h-1.5zM431.7,543.35h1.5v14.27h-1.5zM599.0,543.35h1.8v14.27h-1.8zM49.2,557.62h5.5v14.27h-5.5zM56.7,557.62h5.8v14.27h-5.8zM64.4,557.62h13.5v14.27h-13.5zM79.7,557.62h6.1v14.27h-6.1zM87.7,557.62h4.3v14.27h-4.3zM93.9,557.62h2.0v14.27h-2.0zM97.4,557.62h4.6v14.27h-4.6zM105.5,557.62h9.8v14.27h-9.8zM117.1,557.62h4.1v14.27h-4.1zM123.2,557.62h8.0v14.27h-8.0zM132.7,557.62h11.8v14.27h-11.8zM146.6,557.62h3.8v14.27h-3.8zM154.2,557.62h4.8v14.27h-4.8zM159.0,557.62h6.9v14.27h-6.9zM169.8,557.62h1.8v14.27h-1.8zM179.4,557.62h3.8v14.27h-3.8zM189.0,557.62h2.3v14.27h-2.3zM193.1,557.62h2.0v14.27h-2.0zM198.9,557.62h1.8v14.27h-1.8zM202.8,557.62h2.0v14.27h-2.0zM206.6,557.62h1.8v14.27h-1.8zM212.8,557.62h3.4v14.27h-3.4zM220.5,557.62h1.8v14.27h-1.8zM224.4,557.62h2.2v14.27h-2.2zM230.1,557.62h3.8v14.27h-3.8zM240.0,557.62h9.7v14.27h-9.7zM255.8,557.62h1.8v14.27h-1.8zM259.8,557.62h1.7v14.27h-1.7zM265.3,557.62h3.7v14.27h-3.7zM269.0,557.62h1.2v14.27h-1.2zM277.1,557.62h1.8v14.27h-1.8zM283.3,557.62h1.8v14.27h-1.8zM289.0,557.62h1.8v14.27h-1.8zM297.0,557.62h2.0v14.27h-2.0zM302.8,557.62h1.8v14.27h-1.8zM306.6,557.62h5.7v14.27h-5.7zM332.0,557.62h3.4v14.27h-3.4zM345.4,557.62h2.0v14.27h-2.0zM361.2,557.62h3.8v14.27h-3.8zM369.2,557.62h3.5v14.27h-3.5zM380.5,557.62h1.8v14.27h-1.8zM414.0,557.62h1.8v14.27h-1.8zM419.7,557.62h1.5v14.27h-1.5zM431.7,557.62h3.4v14.27h-3.4zM437.4,557.62h1.5v14.27h-1.5zM443.2,557.62h1.8v14.27h-1.8zM451.2,557.62h1.5v14.27h-1.5zM461.2,557.62h1.5v14.27h-1.5zM497.8,557.62h1.7v14.27h-1.7zM507.4,557.62h1.7v14.27h-1.7zM538.6,557.62h1.7v14.27h-1.7zM548.6,557.62h1.5v14.27h-1.5zM589.6,557.62h1.5v14.27h-1.5zM618.7,557.62h1.7v14.27h-1.7zM628.2,557.62h1.8v14.27h-1.8zM636.2,557.62h1.7v14.27h-1.7zM757.1,557.62h1.7v14.27h-1.7zM762.9,557.62h1.7v14.27h-1.7z" fill="#00a651"/>
<rect x="775.1" y="501.4" width="2" height="12.2" fill="#fff"/>
<rect x="49.7" y="575.6" width="382.6" height="100.03" fill="#ff0000"/>
<path d="M90.5,575.60h1.7v14.29h-1.7zM110.0,575.60h1.7v14.29h-1.7zM143.2,575.60h1.7v14.29h-1.7zM180.2,575.60h1.7v14.29h-1.7zM289.4,575.60h1.7v14.29h-1.7zM326.6,575.60h1.7v14.29h-1.7zM406.7,575.60h1.7v14.29h-1.7zM418.3,575.60h1.7v14.29h-1.7zM49.8,589.89h1.2v14.29h-1.2zM74.8,589.89h1.7v14.29h-1.7zM182.0,589.89h1.7v14.29h-1.7zM244.6,589.89h1.7v14.29h-1.7zM287.4,589.89h1.7v14.29h-1.7zM344.1,589.89h1.7v14.29h-1.7zM352.0,589.89h1.7v14.29h-1.7zM398.7,589.89h1.7v14.29h-1.7zM408.5,589.89h1.7v14.29h-1.7zM426.0,589.89h1.7v14.29h-1.7zM49.8,604.18h11.2v14.29h-11.2zM49.8,618.47h1.2v14.29h-1.2zM55.1,618.47h1.8v14.29h-1.8zM145.0,618.47h1.7v14.29h-1.7zM225.1,618.47h1.7v14.29h-1.7zM248.4,618.47h1.7v14.29h-1.7zM279.8,618.47h1.7v14.29h-1.7zM57.1,632.76h1.7v14.29h-1.7zM74.8,632.76h1.7v14.29h-1.7zM78.8,632.76h1.7v14.29h-1.7zM106.0,632.76h1.7v14.29h-1.7zM164.5,632.76h1.7v14.29h-1.7zM295.3,632.76h1.7v14.29h-1.7zM49.8,647.05h5.4v14.29h-5.4zM71.0,647.05h1.7v14.29h-1.7zM88.5,647.05h1.7v14.29h-1.7zM106.0,647.05h1.7v14.29h-1.7zM71.0,661.34h1.7v14.29h-1.7zM119.7,661.34h1.7v14.29h-1.7zM131.5,661.34h1.7v14.29h-1.7zM232.9,661.34h1.7v14.29h-1.7zM355.8,661.34h3.8v14.29h-3.8z" fill="#00a651"/>
<text x="3.3" y="464.2" font-size="22.5" text-anchor="start" fill="#000" stroke="#000" stroke-width="0.35" font-weight="bold" >E</text>
<text x="26.2" y="480.83" font-size="6.2" text-anchor="start" fill="#000" stroke="#000" stroke-width="0.17" font-weight="bold" >IgM</text>
<text x="26.2" y="584.45" font-size="6.2" text-anchor="start" fill="#000" stroke="#000" stroke-width="0.17" font-weight="bold" >IgM</text>
<text x="26.2" y="495.1" font-size="6.2" text-anchor="start" fill="#000" stroke="#000" stroke-width="0.17" font-weight="bold" >IgA</text>
<text x="26.2" y="598.74" font-size="6.2" text-anchor="start" fill="#000" stroke="#000" stroke-width="0.17" font-weight="bold" >IgA</text>
<text x="26.2" y="509.38" font-size="6.2" text-anchor="start" fill="#000" stroke="#000" stroke-width="0.17" font-weight="bold" >IgG</text>
<text x="26.2" y="613.03" font-size="6.2" text-anchor="start" fill="#000" stroke="#000" stroke-width="0.17" font-weight="bold" >IgG</text>
<text x="26.2" y="523.65" font-size="6.2" text-anchor="start" fill="#000" stroke="#000" stroke-width="0.17" font-weight="bold" >IgG1</text>
<text x="26.2" y="627.32" font-size="6.2" text-anchor="start" fill="#000" stroke="#000" stroke-width="0.17" font-weight="bold" >IgG1</text>
<text x="26.2" y="537.92" font-size="6.2" text-anchor="start" fill="#000" stroke="#000" stroke-width="0.17" font-weight="bold" >IgG2</text>
<text x="26.2" y="641.61" font-size="6.2" text-anchor="start" fill="#000" stroke="#000" stroke-width="0.17" font-weight="bold" >IgG2</text>
<text x="26.2" y="552.19" font-size="6.2" text-anchor="start" fill="#000" stroke="#000" stroke-width="0.17" font-weight="bold" >IgG3</text>
<text x="26.2" y="655.9" font-size="6.2" text-anchor="start" fill="#000" stroke="#000" stroke-width="0.17" font-weight="bold" >IgG3</text>
<text x="26.2" y="566.46" font-size="6.2" text-anchor="start" fill="#000" stroke="#000" stroke-width="0.17" font-weight="bold" >IgG4</text>
<text x="26.2" y="670.19" font-size="6.2" text-anchor="start" fill="#000" stroke="#000" stroke-width="0.17" font-weight="bold" >IgG4</text>
<text x="50.2" y="466.9" font-size="6.5" text-anchor="start" fill="#000" stroke="#000" stroke-width="0.18" font-weight="bold" >High IgG</text>
<text x="775.7" y="466.3" font-size="6.5" text-anchor="end" fill="#000" stroke="#000" stroke-width="0.18" font-weight="bold" >Low IgG</text>
<text x="463.2" y="580.9" font-size="6.8" text-anchor="start" fill="#000" stroke="#000" stroke-width="0.19" font-weight="bold" >Positive</text>
<text x="463.2" y="589.0" font-size="6.8" text-anchor="start" fill="#000" stroke="#000" stroke-width="0.19" font-weight="bold" >Negative</text>
<text x="0" y="0" font-size="11.3" text-anchor="middle" fill="#000" stroke="#000" stroke-width="0.32" font-weight="bold" transform="translate(10.3,520.3) rotate(-90)">RA patients</text>
<text x="0" y="0" font-size="11.3" text-anchor="middle" fill="#000" stroke="#000" stroke-width="0.32" font-weight="bold" transform="translate(11.2,622.7) rotate(-90)">controls</text>
<rect x="437.1" y="576.1" width="22.9" height="4.6" fill="#00a651"/>
<rect x="437.1" y="584.1" width="22.9" height="4.6" fill="#ff0000"/>
</svg>
</body></html>
